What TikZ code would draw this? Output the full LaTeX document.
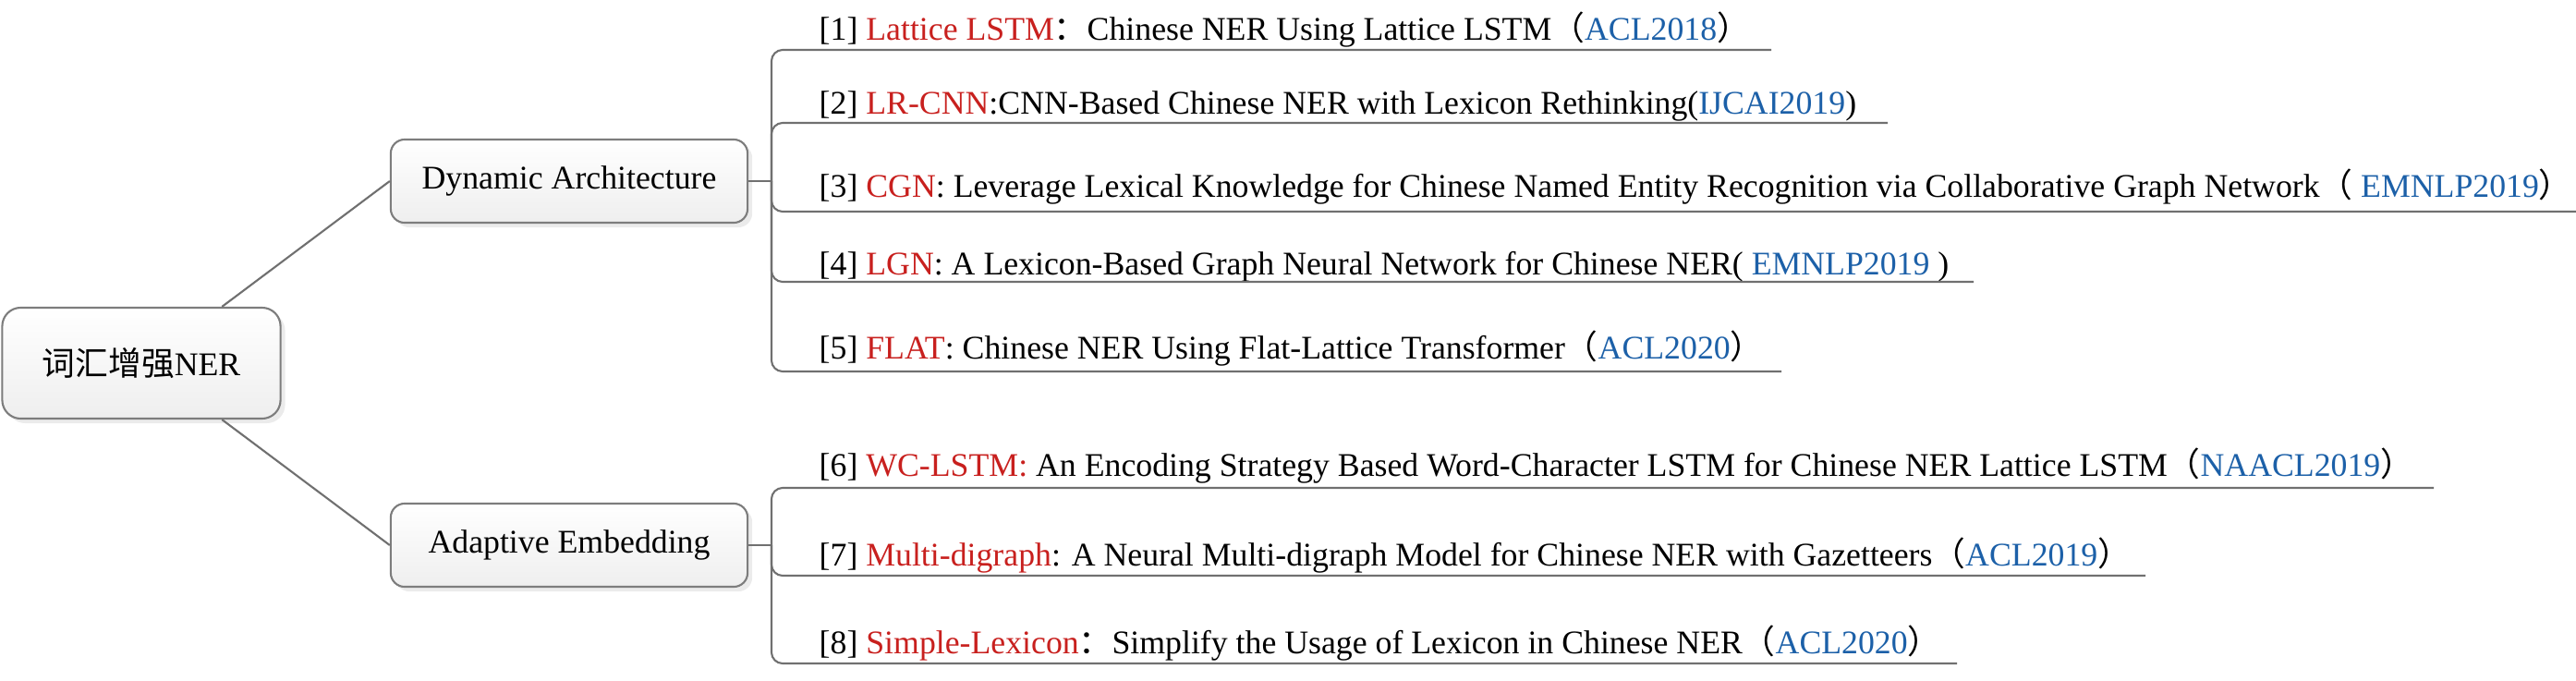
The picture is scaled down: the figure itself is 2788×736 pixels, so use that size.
\documentclass[tikz,border=0pt]{standalone}
\usepackage{fontspec}
\setmainfont{Liberation Serif}
\newfontfamily\cjk{Noto Sans CJK SC}
\usetikzlibrary{shadows}

\definecolor{refred}{RGB}{200,32,30}
\definecolor{refblue}{RGB}{28,96,168}
\definecolor{linegray}{RGB}{112,112,112}
\definecolor{boxgray}{RGB}{125,125,125}

\newcommand{\model}[1]{\textcolor{refred}{#1}}
\newcommand{\venue}[1]{\textcolor{refblue}{#1}}
\newcommand{\fcol}{{\cjk ：}}
\newcommand{\flp}{{\cjk （}}
\newcommand{\frp}{{\cjk ）}}

\tikzset{
	every node/.style={font=\fontsize{10.17pt}{12pt}\selectfont},
	topic/.style={draw=boxgray, line width=0.6pt, rounded corners=0.15cm,
		top color=white, bottom color=gray!13,
		drop shadow={shadow xshift=0.05cm, shadow yshift=-0.05cm, fill=gray!45, opacity=0.35},
		minimum width=3.86cm, minimum height=0.9cm, inner sep=0pt},
	link/.style={draw=linegray, line width=0.6pt},
	paper/.style={anchor=base west, inner sep=0pt},
}

\begin{document}
\begin{tikzpicture}[x=0.01cm, y=-0.01cm]
	\useasboundingbox (0,0) rectangle (2788,736);
	\node[topic, minimum width=3.01cm, minimum height=1.2cm, rounded corners=0.2cm] (root) at (153,393) {{\cjk 词汇增强}NER};
	\node[topic] (dyn) at (616,196) {Dynamic Architecture};
	\node[topic] (ada) at (616,590) {Adaptive Embedding};
	\draw[link] (root.35) -- (dyn.west);
	\draw[link] (root.-35) -- (ada.west);
	\coordinate (dj) at (835,196);
	\coordinate (aj) at (835,590);
	\draw[link] (dyn.east) -- (dj);
	\draw[link] (ada.east) -- (aj);
	\node[paper] (p1) at (886,43) {[1] \model{Lattice LSTM}\fcol Chinese NER Using Lattice LSTM\flp\venue{ACL2018}\frp};
	\node[paper] (p2) at (886,123) {[2] \model{LR-CNN}:CNN-Based Chinese NER with Lexicon Rethinking(\venue{IJCAI2019})};
	\node[paper] (p3) at (886,213) {[3] \model{CGN}: Leverage Lexical Knowledge for Chinese Named Entity Recognition via Collaborative Graph Network\flp{} \venue{EMNLP2019}\frp};
	\node[paper] (p4) at (886,297) {[4] \model{LGN}: A Lexicon-Based Graph Neural Network for Chinese NER( \venue{EMNLP2019} )};
	\node[paper] (p5) at (886,388) {[5] \model{FLAT}: Chinese NER Using Flat-Lattice Transformer\flp\venue{ACL2020}\frp};
	\node[paper] (p6) at (886,515) {[6] \model{WC-LSTM:} An Encoding Strategy Based Word-Character LSTM for Chinese NER Lattice LSTM\flp\venue{NAACL2019}\frp};
	\node[paper] (p7) at (886,612) {[7] \model{Multi-digraph}: A Neural Multi-digraph Model for Chinese NER with Gazetteers\flp\venue{ACL2019}\frp};
	\node[paper] (p8) at (886,707) {[8] \model{Simple-Lexicon}\fcol Simplify the Usage of Lexicon in Chinese NER\flp\venue{ACL2020}\frp};
	\coordinate (u1) at (1917,54);
	\coordinate (u2) at (2043,133);
	\coordinate (u3) at (2800,229);
	\coordinate (u4) at (2136,305);
	\coordinate (u5) at (1928,402);
	\coordinate (u6) at (2634,528);
	\coordinate (u7) at (2322,623);
	\coordinate (u8) at (2118,718);
	\foreach \i in {1,...,5} \draw[link, rounded corners=0.12cm] (dj) |- (u\i);
	\foreach \i in {6,7,8} \draw[link, rounded corners=0.12cm] (aj) |- (u\i);
\end{tikzpicture}
\end{document}
